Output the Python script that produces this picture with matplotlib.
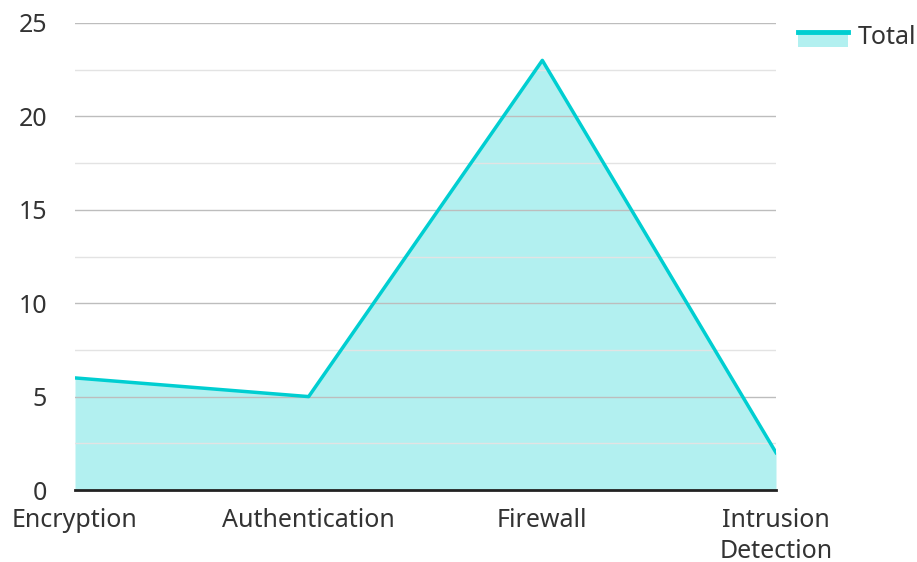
import matplotlib
matplotlib.use("Agg")
import numpy as np
from matplotlib import pyplot as plt
from matplotlib.legend_handler import HandlerBase
from matplotlib.patches import Rectangle
from matplotlib.lines import Line2D

plt.rcParams['font.family'] = ['Noto Sans', 'DejaVu Sans']

# data
categories = ["Encryption", "Authentication", "Firewall", "Intrusion\nDetection"]
totals = [6, 5, 23, 2]
series_name = "Total"

line_color = "#00CED1"
fill_color = "#b2f0f0"
text_color = "#333333"


# legend key: filled box with the line along its top edge, sitting a bit low
class AreaHandler(HandlerBase):
    def create_artists(self, legend, orig_handle, xdescent, ydescent,
                       width, height, fontsize, trans):
        y0 = -ydescent - 3
        box = Rectangle((-xdescent, y0), width, height,
                        facecolor=fill_color, edgecolor="none", transform=trans)
        top = Line2D([-xdescent, -xdescent + width],
                     [y0 + height, y0 + height],
                     color=line_color, linewidth=3.5, transform=trans)
        return [box, top]


fig = plt.figure(figsize=(9.17, 5.62), dpi=100)
ax = fig.add_axes([75 / 917, 72 / 562, 701 / 917, 467 / 562])

x = np.arange(len(categories))
ax.fill_between(x, totals, 0, color=fill_color, linewidth=0, zorder=1)
ax.plot(x, totals, color=line_color, linewidth=2.5, zorder=3)

ax.set_xlim(0, len(categories) - 1)
ax.set_ylim(0, 25)
ax.set_yticks(np.arange(0, 26, 5))
ax.set_yticks(np.arange(2.5, 25, 5), minor=True)
ax.grid(True, which="major", axis="y", color="#bdbdbd", linewidth=1, zorder=2)
ax.grid(True, which="minor", axis="y", color="#e3e3e3", linewidth=1, zorder=2)

ax.set_xticks(x)
ax.set_xticklabels(categories, fontsize=18, color=text_color, linespacing=1.3)
ax.tick_params(axis="y", labelsize=18, labelcolor=text_color, length=0, pad=20)
ax.tick_params(axis="x", length=0, pad=13)
ax.tick_params(axis="y", which="minor", length=0)

for s in ["top", "right", "left"]:
    ax.spines[s].set_visible(False)
ax.spines["bottom"].set_color("#222222")
ax.spines["bottom"].set_linewidth(2)
ax.spines["bottom"].set_zorder(4)

fig.legend([object()], [series_name], handler_map={object: AreaHandler()},
           loc="upper right", bbox_to_anchor=(0.999, 0.955), frameon=False,
           borderaxespad=0, borderpad=0,
           fontsize=18, handlelength=2.0, handleheight=0.5, handletextpad=0.4,
           labelcolor=text_color)

fig.savefig("out.png", dpi=100)
